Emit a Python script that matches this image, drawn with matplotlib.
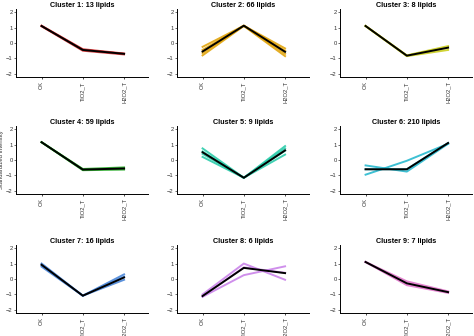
import matplotlib
matplotlib.use("Agg")
import matplotlib.pyplot as plt
import numpy as np

conditions = ["CK", "TiO2_T", "H2O2_T"]
titles = ["Cluster 1: 13 lipids", "Cluster 2: 66 lipids", "Cluster 3: 8 lipids",
          "Cluster 4: 59 lipids", "Cluster 5: 9 lipids", "Cluster 6: 210 lipids",
          "Cluster 7: 16 lipids", "Cluster 8: 6 lipids", "Cluster 9: 7 lipids"]
colors = ["#d62728", "#e0a000", "#c8cc10", "#1fa81f", "#20c9a6", "#1cb5cc",
          "#3f7fd6", "#c77ce8", "#e070c8"]

means = [
    [1.10, -0.45, -0.70],
    [-0.55, 1.12, -0.57],
    [1.10, -0.82, -0.30],
    [1.15, -0.62, -0.55],
    [0.50, -1.15, 0.62],
    [-0.60, -0.60, 1.10],
    [0.92, -1.08, 0.10],
    [-1.10, 0.72, 0.38],
    [1.10, -0.28, -0.85],
]

members = [
    [[1.12, -0.40, -0.68], [1.08, -0.50, -0.74], [1.10, -0.44, -0.70]],
    [[-0.25, 1.12, -0.35], [-0.80, 1.10, -0.85], [-0.45, 1.12, -0.50], [-0.65, 1.12, -0.70]],
    [[1.10, -0.80, -0.20], [1.10, -0.85, -0.45], [1.10, -0.82, -0.30]],
    [[1.15, -0.58, -0.48], [1.15, -0.66, -0.62], [1.15, -0.62, -0.55]],
    [[0.75, -1.15, 0.90], [0.20, -1.15, 0.35], [0.55, -1.15, 0.60], [0.40, -1.15, 0.75]],
    [[-0.35, -0.75, 1.05], [-0.95, -0.05, 1.05], [-0.60, -0.60, 1.10]],
    [[1.00, -1.08, 0.30], [0.80, -1.08, -0.05], [0.90, -1.08, 0.15]],
    [[-1.00, 1.00, -0.05], [-1.15, 0.25, 0.82], [-1.12, 0.75, 0.40]],
    [[1.10, -0.15, -0.80], [1.10, -0.40, -0.90], [1.10, -0.28, -0.85]],
]

plt.rcParams['font.family'] = ['Liberation Sans', 'DejaVu Sans']

W, H = 474, 336
fig = plt.figure(figsize=(W / 100, H / 100), dpi=100)

lefts = [16, 177, 340]
bottoms = [77, 194, 313]
aw, ah = 132, 68

x = np.arange(len(conditions))
for i in range(9):
    r, c = divmod(i, 3)
    ax = fig.add_axes([lefts[c] / W, (H - bottoms[r]) / H, aw / W, ah / H])
    for m in members[i]:
        ax.plot(x, m, color=colors[i], lw=1.4, alpha=0.85)
    ax.plot(x, means[i], color="black", lw=1.4)
    ax.set_xlim(-0.62, 2.58)
    ax.set_ylim(-2.2, 2.2)
    ax.set_yticks([-2, -1, 0, 1, 2])
    ax.set_xticks(x)
    ax.set_xticklabels(conditions, rotation=90, fontsize=4.2, color="#333333")
    ax.tick_params(axis="y", labelsize=4.2, length=1.5, width=0.5, pad=1, colors="#333333")
    ax.tick_params(axis="x", length=1.5, width=0.5, pad=1.5)
    for s in ["top", "right"]:
        ax.spines[s].set_visible(False)
    for s in ["left", "bottom"]:
        ax.spines[s].set_linewidth(0.7)
    ax.set_title(titles[i], fontsize=5.2, fontweight="bold", pad=1.5)
    if i == 3:
        ax.set_ylabel("Standardized Intensity", fontsize=4.2, labelpad=1, color="#333333")

fig.savefig("out.png", dpi=100)
